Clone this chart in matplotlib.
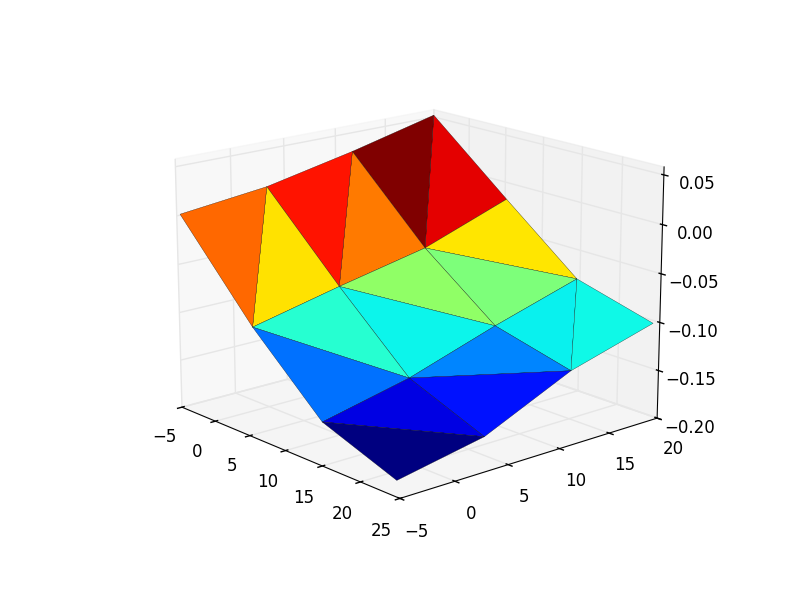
import matplotlib
matplotlib.use('Agg')
import matplotlib.pyplot as plt
import matplotlib.tri as mtri
import numpy as np

plt.style.use('classic')

x_vals = [-5, 5.2, 14.6, 24.2]
y_vals = [-4.7, 3.33, 11.67, 20]

# rows run along y, one row per x value
z_rows = [
    [0.001, 0.011, 0.030, 0.052],
    [-0.089, -0.069, -0.050, -0.018],
    [-0.158, -0.138, -0.108, -0.081],
    [-0.186, -0.169, -0.128, -0.103],
]

# vertex index = row * 4 + col
triangles = [
    [0, 1, 4], [1, 4, 5], [1, 2, 5], [2, 5, 6], [2, 3, 6], [3, 6, 7],
    [4, 5, 9], [4, 8, 9], [5, 6, 10], [5, 9, 10], [6, 7, 11], [6, 10, 11],
    [8, 9, 13], [8, 12, 13], [9, 10, 14], [9, 13, 14], [10, 11, 14], [11, 14, 15],
]

xs, ys = np.meshgrid(x_vals, y_vals, indexing='ij')
zs = np.array(z_rows)

fig = plt.figure(figsize=(8, 6), dpi=100, facecolor='white')
ax = fig.add_axes([0.127, 0.1067, 0.775, 0.8], projection='3d')
tri = mtri.Triangulation(xs.ravel(), ys.ravel(), triangles)
surf = ax.plot_trisurf(tri, zs.ravel(), cmap='jet', linewidth=0.2, shade=False, edgecolor='black')
surf.set_clip_on(False)

ax.set_xlim(-5, 25)
ax.set_ylim(-5, 20)
ax.set_zlim(-0.2, 0.058)
ax.set_xticks([-5, 0, 5, 10, 15, 20, 25])
ax.set_yticks([-5, 0, 5, 10, 15, 20])
ax.set_zticks([-0.20, -0.15, -0.10, -0.05, 0.00, 0.05])
ax.view_init(elev=16.5, azim=-41)
ax.set_box_aspect((4, 4, 3.05), zoom=1.11)

fig.savefig('out.png', dpi=100, facecolor='white')
